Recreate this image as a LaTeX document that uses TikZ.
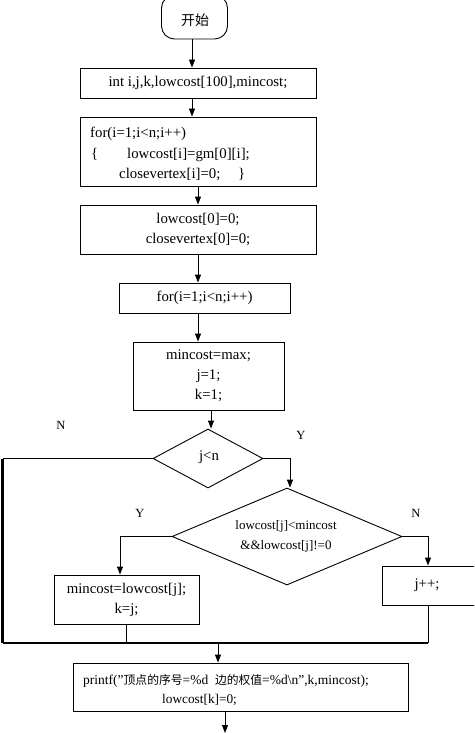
\documentclass[tikz,border=0pt]{standalone}
\usepackage{fontspec}
\setmainfont{Liberation Serif}
\newfontfamily\cjk{Noto Sans CJK SC}
\usetikzlibrary{arrows.meta,shapes.geometric}
\newcommand{\zh}[1]{{\cjk\fontsize{11.8pt}{13pt}\selectfont #1}}
\tikzset{
  box/.style={draw,line width=0.9pt,inner sep=0pt,align=center,font=\fontsize{14.8pt}{20pt}\selectfont},
  dia/.style={draw,line width=0.9pt,diamond,inner sep=0pt,aspect=1,align=center},
  lbl/.style={font=\fontsize{12.5pt}{14pt}\selectfont,inner sep=0pt},
  arr/.style={line width=0.9pt,-{Triangle[length=8pt,width=6pt]}},
  ln/.style={line width=0.9pt}
}
\begin{document}
\begin{tikzpicture}[x=1pt,y=-1pt]
\useasboundingbox (0,0) rectangle (474,733);
\begin{scope}
\clip (0,0) rectangle (474,733);
% start
\node[draw,line width=0.9pt,rounded corners=13pt,minimum width=66pt,minimum height=44pt,inner sep=0pt] (start) at (194.5,17) {};
\node[inner sep=0pt,font=\cjk\fontsize{14pt}{16pt}\selectfont] (starttxt) at (195,20) {开始};
% boxes
\node[box,minimum width=236pt,minimum height=30pt] (b1) at (198,83) {int i,j,k,lowcost[100],mincost;};
\node[box,minimum width=236pt,minimum height=69pt] (b2) at (198,151.5) {};
\node[lbl,anchor=base west,font=\fontsize{14.8pt}{20pt}\selectfont] (b2a) at (90,138) {for(i=1;i<n;i++)};
\node[lbl,anchor=base west,font=\fontsize{14.8pt}{20pt}\selectfont] (b2b) at (91,158) {\{};
\node[lbl,anchor=base west,font=\fontsize{14.8pt}{20pt}\selectfont] (b2c) at (127,158) {lowcost[i]=gm[0][i];};
\node[lbl,anchor=base west,font=\fontsize{14.8pt}{20pt}\selectfont] (b2d) at (119,178) {closevertex[i]=0;};
\node[lbl,anchor=base west,font=\fontsize{14.8pt}{20pt}\selectfont] (b2e) at (238,178) {\}};
\node[box,minimum width=236pt,minimum height=49pt] (b3) at (198,229.5) {lowcost[0]=0;\\closevertex[0]=0;};
\node[box,minimum width=171pt,minimum height=30pt] (b4) at (204.5,298) {for(i=1;i<n;i++)};
\node[box,minimum width=151pt,minimum height=68pt] (b5) at (208.5,376) {mincost=max;\\j=1;\\k=1;};
% diamonds
\node[dia,minimum width=110pt,minimum height=59pt,aspect=1.86] (d1) at (208,458.5) {};
\node[inner sep=0pt,font=\fontsize{14.8pt}{18pt}\selectfont] (d1t) at (209,457) {j<n};
\node[dia,minimum width=230pt,minimum height=97pt,aspect=2.37] (d2) at (287,536.5) {};
\node[inner sep=0pt,align=center,font=\fontsize{13pt}{20pt}\selectfont] (d2t) at (286,536) {lowcost[j]<mincost\\\&\&lowcost[j]!=0};
% branch boxes
\node[box,minimum width=145pt,minimum height=49pt] (b6) at (126.5,599.5) {mincost=lowcost[j];\\k=j;};
\node[draw,line width=0.9pt,minimum width=100pt,minimum height=39pt,inner sep=0pt] (b7) at (432,585.5) {};
\node[inner sep=0pt,font=\fontsize{14.8pt}{18pt}\selectfont] (b7t) at (427,585) {j++;};
% printf box
\node[draw,line width=0.9pt,minimum width=335pt,minimum height=48pt,inner sep=0pt] (pf) at (240.5,687) {};
\node[inner sep=0pt,anchor=base west,font=\fontsize{13.5pt}{16pt}\selectfont] (pf1) at (83,684) {printf("\zh{顶点的序号}=\%d\ \ \zh{边的权值}=\%d\textbackslash n",k,mincost);};
\node[inner sep=0pt,anchor=base west,font=\fontsize{13.3pt}{16pt}\selectfont] (pf2) at (162,703) {lowcost[k]=0;};
% labels
\node[lbl] (n1) at (61,425) {N};
\node[lbl] (y1) at (301,435) {Y};
\node[lbl] (y2) at (140,513) {Y};
\node[lbl] (n2) at (416,513) {N};
% coordinates
\coordinate (lc) at (2.5,643);
\coordinate (m) at (218,643);
\coordinate (endpt) at (225,733);
% connectors
\draw[arr] (start.south -| 192,0) -- (b1.north -| 192,0);
\draw[arr] (b1.south -| 192,0) -- (b2.north -| 192,0);
\draw[arr] (b2.south -| 198,0) -- (b3.north -| 198,0);
\draw[arr] (b3.south -| 198,0) -- (b4.north -| 198,0);
\draw[arr] (b4.south -| 198,0) -- (b5.north -| 198,0);
\draw[arr] (b5.south -| 211,0) -- (d1.north -| 211,0);
\draw[arr] (d1.east) -| (d2.north -| 290,0);
\draw[arr] (d2.west) -| (b6.north -| 120,0);
\draw[arr] (d2.east) -| (b7.north -| 428,0);
\draw[ln] (b6.south) -- (b6.south |- lc);
\draw[ln] (b7.south -| 428,0) -- (lc -| 428,0);
\draw[line width=1.5pt] (lc) -- (lc -| 428,0);
\draw[ln] (d1.west) -- (d1.west -| lc);
\draw[line width=2.4pt] (d1.west -| lc) -- (lc);
\draw[arr] (m) -- (m |- pf.north);
\draw[arr] (pf.south -| endpt) -- (endpt);
\end{scope}
\end{tikzpicture}
\end{document}
